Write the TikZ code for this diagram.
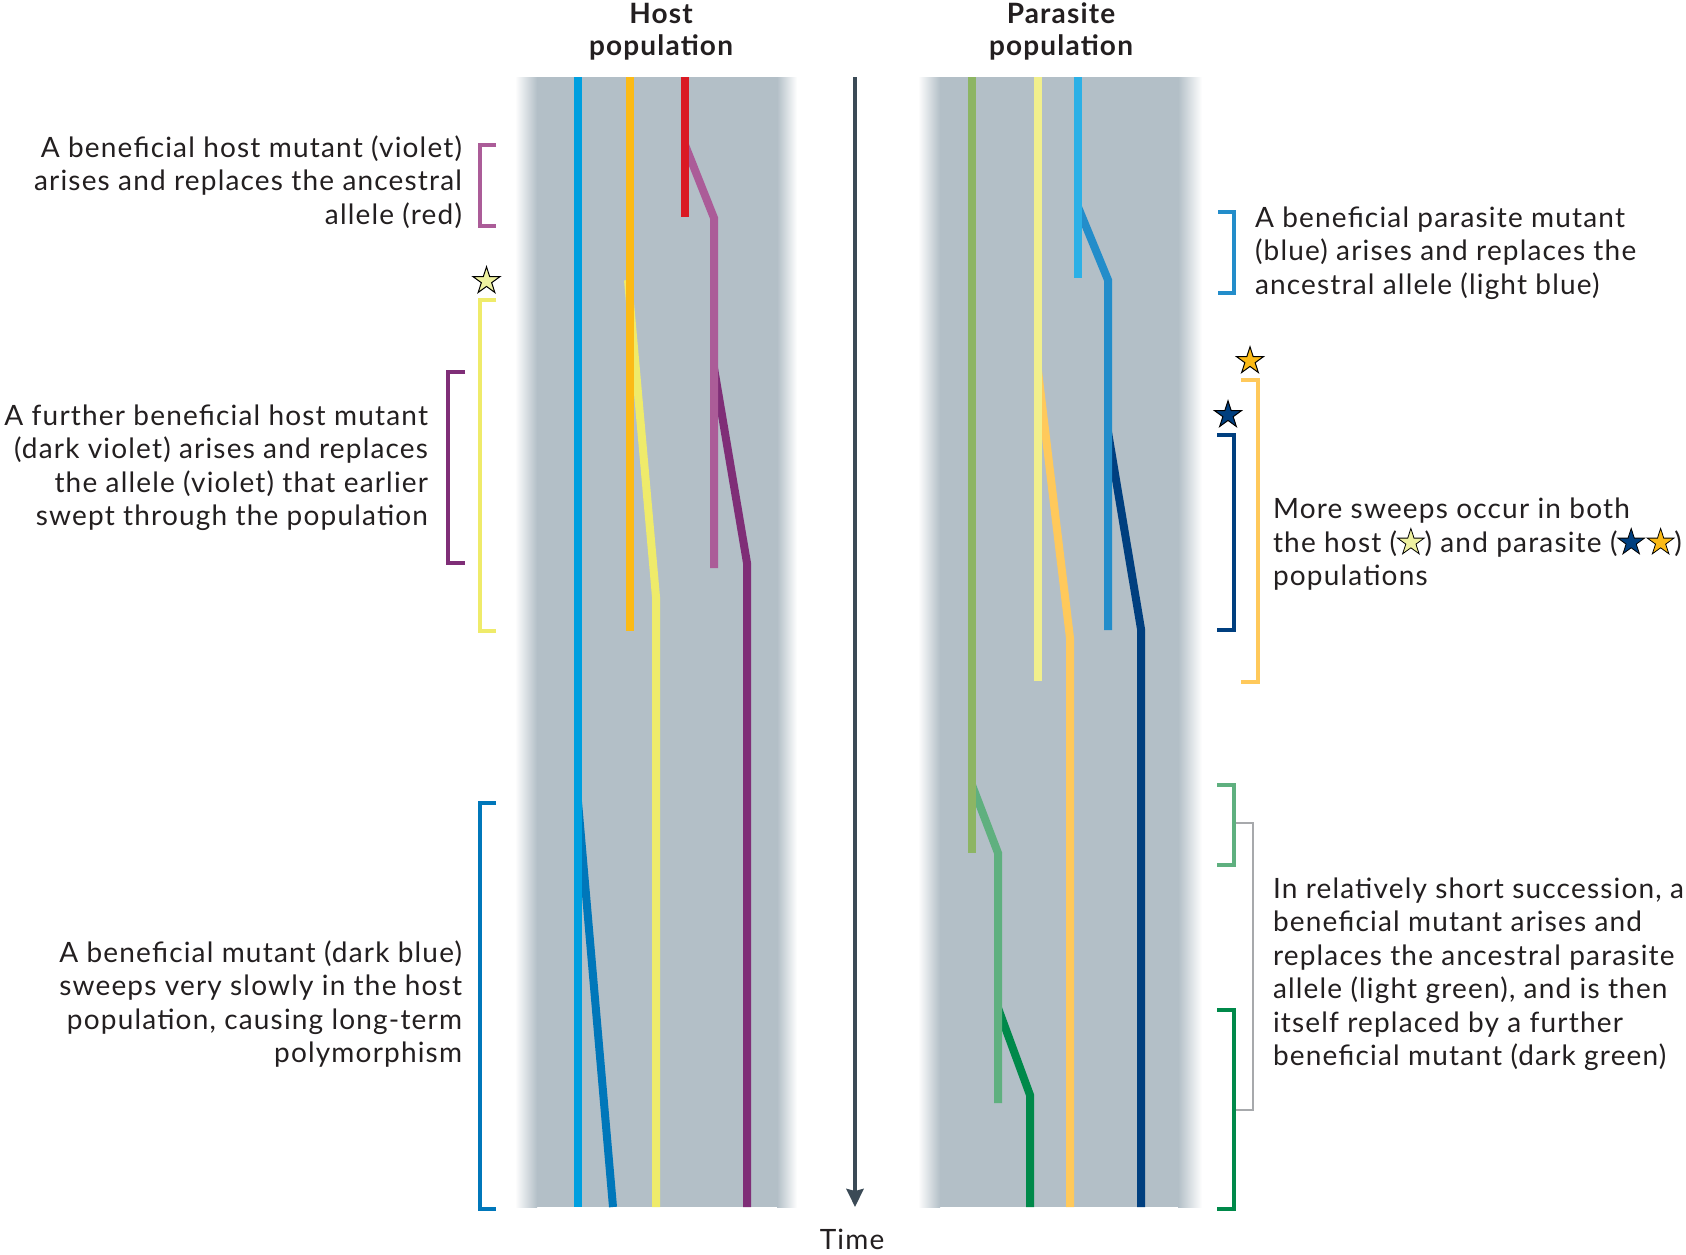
\documentclass[tikz,border=0pt]{standalone}
\usepackage{fontspec}
\setmainfont{Lato}[LetterSpace=4.2]
\usetikzlibrary{arrows.meta,shapes.geometric}
\definecolor{bandc}{HTML}{B3BFC7}
\definecolor{txtc}{HTML}{231F20}
\definecolor{timec}{HTML}{3B4A56}
\definecolor{hLBc}{HTML}{009FDF}
\definecolor{hOrc}{HTML}{FBBA16}
\definecolor{hRedc}{HTML}{DA1A24}
\definecolor{hVioc}{HTML}{AB5C98}
\definecolor{hDVc}{HTML}{7F2E77}
\definecolor{hYelc}{HTML}{EFEB6A}
\definecolor{hDBc}{HTML}{0077BA}
\definecolor{pLGc}{HTML}{8DB564}
\definecolor{pPYc}{HTML}{F1EF8C}
\definecolor{pLBc}{HTML}{2CB0E6}
\definecolor{pBc}{HTML}{238DCA}
\definecolor{pNavyc}{HTML}{003F7F}
\definecolor{pLOc}{HTML}{FFC95B}
\definecolor{pMGc}{HTML}{5FB07F}
\definecolor{pDGc}{HTML}{00894A}
\definecolor{greyc}{HTML}{A7A9AC}
\definecolor{starYc}{HTML}{EEF1A0}
\newcommand{\rblock}[1]{\begin{tabular}[t]{@{}r@{}}#1\end{tabular}}
\newcommand{\lblock}[1]{\begin{tabular}[t]{@{}l@{}}#1\end{tabular}}
\newcommand{\cblock}[1]{\begin{tabular}[t]{@{}c@{}}#1\end{tabular}}
\newcommand{\instar}[2]{\tikz[baseline=-4.8pt]\node[name=#1,anchor=center,star,star points=5,star point ratio=2.618,draw=black,line width=0.4pt,fill=#2,minimum size=14pt,inner sep=0pt,outer sep=0pt]{};}
\tikzset{
  allele/.style={line width=4pt,line cap=butt,miter limit=10},
  brk/.style={line width=2pt,line cap=butt,line join=miter},
  txt/.style={inner sep=0pt,outer sep=0pt,text=txtc,font=\fontsize{14}{16.75}\selectfont},
  ttl/.style={inner sep=0pt,outer sep=0pt,text=txtc,font=\fontsize{14}{16}\selectfont\bfseries},
  bigstar/.style={star,star points=5,star point ratio=2.618,draw=black,line width=0.5pt,minimum size=14.2pt,inner sep=0pt},
}
\begin{document}
\begin{tikzpicture}[x=0.5pt,y=-0.5pt]
\useasboundingbox (0,0) rectangle (1686,1254);
\fill[white] (0,0) rectangle (1686,1254);
% bands
\shade[left color=white,right color=bandc] (515,77) rectangle (537,1207);
\fill[bandc] (536.5,77) rectangle (777.5,1207);
\shade[left color=bandc,right color=white] (777,77) rectangle (797,1207);
\shade[left color=white,right color=bandc] (918,77) rectangle (940,1207);
\fill[bandc] (939.5,77) rectangle (1178.5,1207);
\shade[left color=bandc,right color=white] (1178,77) rectangle (1202,1207);
% time arrow
\coordinate (tTop) at (855,77);
\coordinate (tBot) at (855,1207);
\draw[timec,line width=2pt,-{Stealth[length=9pt,width=8.5pt,inset=1pt]}] (tTop) -- (tBot);
\node[txt,anchor=base] (time) at (852,1249) {Time};
% host alleles
\draw[allele,hDVc] (714,368) -- (747,563) -- (747,1207);
\draw[allele,hVioc] (685,145) -- (714,218) -- (714,568);
\draw[allele,hRedc] (685,77) -- (685,217);
\draw[allele,hYelc] (628,280) -- (656,597) -- (656,1207);
\draw[allele,hOrc] (630,77) -- (630,631);
\draw[allele,hDBc] (578,802) -- (613,1207);
\draw[allele,hLBc] (578,77) -- (578,1207);
% parasite alleles
\draw[allele,pNavyc] (1108,432) -- (1141,629) -- (1141,1207);
\draw[allele,pBc] (1078,207) -- (1108,280) -- (1108,630);
\draw[allele,pLBc] (1078,77) -- (1078,278);
\draw[allele,pLOc] (1038,371) -- (1070,638) -- (1070,1207);
\draw[allele,pPYc] (1038,77) -- (1038,681);
\draw[allele,pDGc] (998,1008) -- (1030,1095) -- (1030,1207);
\draw[allele,pMGc] (972,785) -- (998,853) -- (998,1103);
\draw[allele,pLGc] (972,77) -- (972,853);
% left brackets
\draw[brk,hVioc] (496,145) -- (479.5,145) -- (479.5,226) -- (496,226);
\draw[brk,hYelc] (496,300) -- (479.5,300) -- (479.5,631) -- (496,631);
\draw[brk,hDVc] (465,372) -- (448,372) -- (448,563) -- (465,563);
\draw[brk,hDBc] (496,803) -- (479.5,803) -- (479.5,1209) -- (496,1209);
% right brackets
\draw[brk,pBc] (1218,212) -- (1234,212) -- (1234,293) -- (1218,293);
\draw[brk,pNavyc] (1217,435) -- (1234,435) -- (1234,630) -- (1217,630);
\draw[brk,pLOc] (1241,380) -- (1258,380) -- (1258,682) -- (1241,682);
\draw[brk,pMGc] (1217,785) -- (1234,785) -- (1234,865) -- (1217,865);
\draw[brk,pDGc] (1217,1010) -- (1234,1010) -- (1234,1209) -- (1217,1209);
\draw[greyc,line width=0.75pt] (1236,823) -- (1253,823) -- (1253,1110) -- (1236,1110);
% stars
\node[bigstar,fill=starYc] (starY) at (486.5,281) {};
\node[bigstar,fill=hOrc] (starO) at (1250,361) {};
\node[bigstar,fill=pNavyc] (starN) at (1228,415) {};
% titles
\node[ttl,anchor=base] (hostT) at (661,23) {\cblock{Host\\population}};
\node[ttl,anchor=base] (parT) at (1061,23) {\cblock{Parasite\\population}};
% left texts
\node[txt,anchor=base east] (L1) at (462,157) {\rblock{A beneficial host mutant (violet)\\arises and replaces the ancestral\\allele (red)}};
\node[txt,anchor=base east] (L2) at (428,425) {\rblock{A further beneficial host mutant\\(dark violet) arises and replaces\\the allele (violet) that earlier\\swept through the population}};
\node[txt,anchor=base east] (L3) at (462,962) {\rblock{A beneficial mutant (dark blue)\\sweeps very slowly in the host\\population, causing long-term\\polymorphism}};
% right texts
\node[txt,anchor=base west] (R1) at (1255,227) {\lblock{A beneficial parasite mutant\\(blue) arises and replaces the\\ancestral allele (light blue)}};
\node[txt,anchor=base west] (R2) at (1273,518) {\lblock{More sweeps occur in both\\the host (\instar{isY}{starYc}) and parasite (\instar{isN}{pNavyc}\hspace{1pt}\instar{isO}{hOrc})\\populations}};
\node[txt,anchor=base west] (R3) at (1273,898) {\lblock{In relatively short succession, a\\beneficial mutant arises and\\replaces the ancestral parasite\\allele (light green), and is then\\itself replaced by a further\\beneficial mutant (dark green)}};
\end{tikzpicture}
\end{document}
